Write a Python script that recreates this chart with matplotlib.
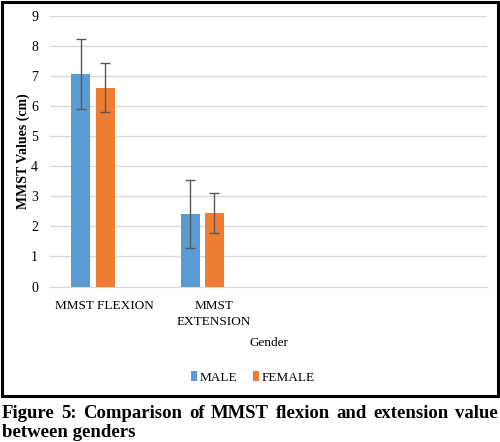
import matplotlib
matplotlib.use("Agg")
import matplotlib.pyplot as plt
from matplotlib.patches import Rectangle
import numpy as np

categories = ["MMST FLEXION", "MMST\nEXTENSION", "", ""]
male_mean = [7.07, 2.41]
male_err = [1.18, 1.12]
female_mean = [6.62, 2.44]
female_err = [0.83, 0.66]
series_names = ["MALE", "FEMALE"]
yticks = list(range(0, 10))

BLUE = "#5B9BD5"
ORANGE = "#ED7D31"
SERIF = ["Liberation Serif", "DejaVu Serif"]

plt.rcParams["font.family"] = SERIF

fig = plt.figure(figsize=(5.0, 4.42), dpi=100)
ax = fig.add_axes([0.100, 0.3518, 0.874, 0.612])

# four category slots, only the first two have data; a third (empty) series
# slot sits to the right of FEMALE, so MALE is shifted left of the centre
x = np.arange(len(male_mean))
w = 0.174
ekw = dict(ecolor="#595959", elinewidth=1.0, capsize=3.5, capthick=1.0)
ax.bar(x - 0.218, male_mean, w, yerr=male_err, color=BLUE, label=series_names[0],
       error_kw=ekw, zorder=3)
ax.bar(x + 0.005, female_mean, w, yerr=female_err, color=ORANGE, label=series_names[1],
       error_kw=ekw, zorder=3)

ax.set_xlim(-0.5, len(categories) - 0.5)
ax.set_ylim(0, 9)
ax.set_yticks(yticks)
ax.set_xticks(np.arange(len(categories)))
ax.set_xticklabels(categories, fontsize=9.5, linespacing=1.45)
ax.tick_params(axis="y", length=0, pad=8.5, labelsize=10)
ax.tick_params(axis="x", length=0, pad=10)
ax.yaxis.grid(True, color="#D9D9D9", linewidth=1.0, zorder=0)
for s in ["top", "right", "left"]:
    ax.spines[s].set_visible(False)
ax.spines["bottom"].set_color("#D9D9D9")
ax.set_ylabel("MMST Values (cm)", fontsize=10, fontweight="bold")
ax.yaxis.set_label_coords(-0.045, 0.5)
ax.set_xlabel("Gender", fontsize=9.5, labelpad=6.5)

fig.legend(loc="center", bbox_to_anchor=(0.505, 0.146), ncol=2, frameon=False,
           fontsize=9.5, handlelength=0.5, handleheight=0.75, handletextpad=0.15,
           columnspacing=1.2)

# outer box round the chart
fig.patches.append(Rectangle((0.004, 0.104), 0.992, 0.8915, transform=fig.transFigure,
                             fill=False, edgecolor="black", linewidth=2.2))

# justified caption
cap1 = "Figure 5: Comparison of MMST flexion and extension value"
cap2 = "between genders"
fig.canvas.draw()
r = fig.canvas.get_renderer()
words = cap1.split()
ts = [fig.text(0, 0.064, wd, fontsize=13.5, fontweight="bold", va="center") for wd in words]
widths = [t.get_window_extent(r).width / fig.bbox.width for t in ts]
x0, x1 = 0.004, 0.996
gap = (x1 - x0 - sum(widths)) / (len(words) - 1)
pos = x0
for t, wd in zip(ts, widths):
    t.set_x(pos)
    pos += wd + gap
fig.text(0.004, 0.022, cap2, fontsize=13.5, fontweight="bold", va="center")

fig.savefig("out.png", dpi=100)
